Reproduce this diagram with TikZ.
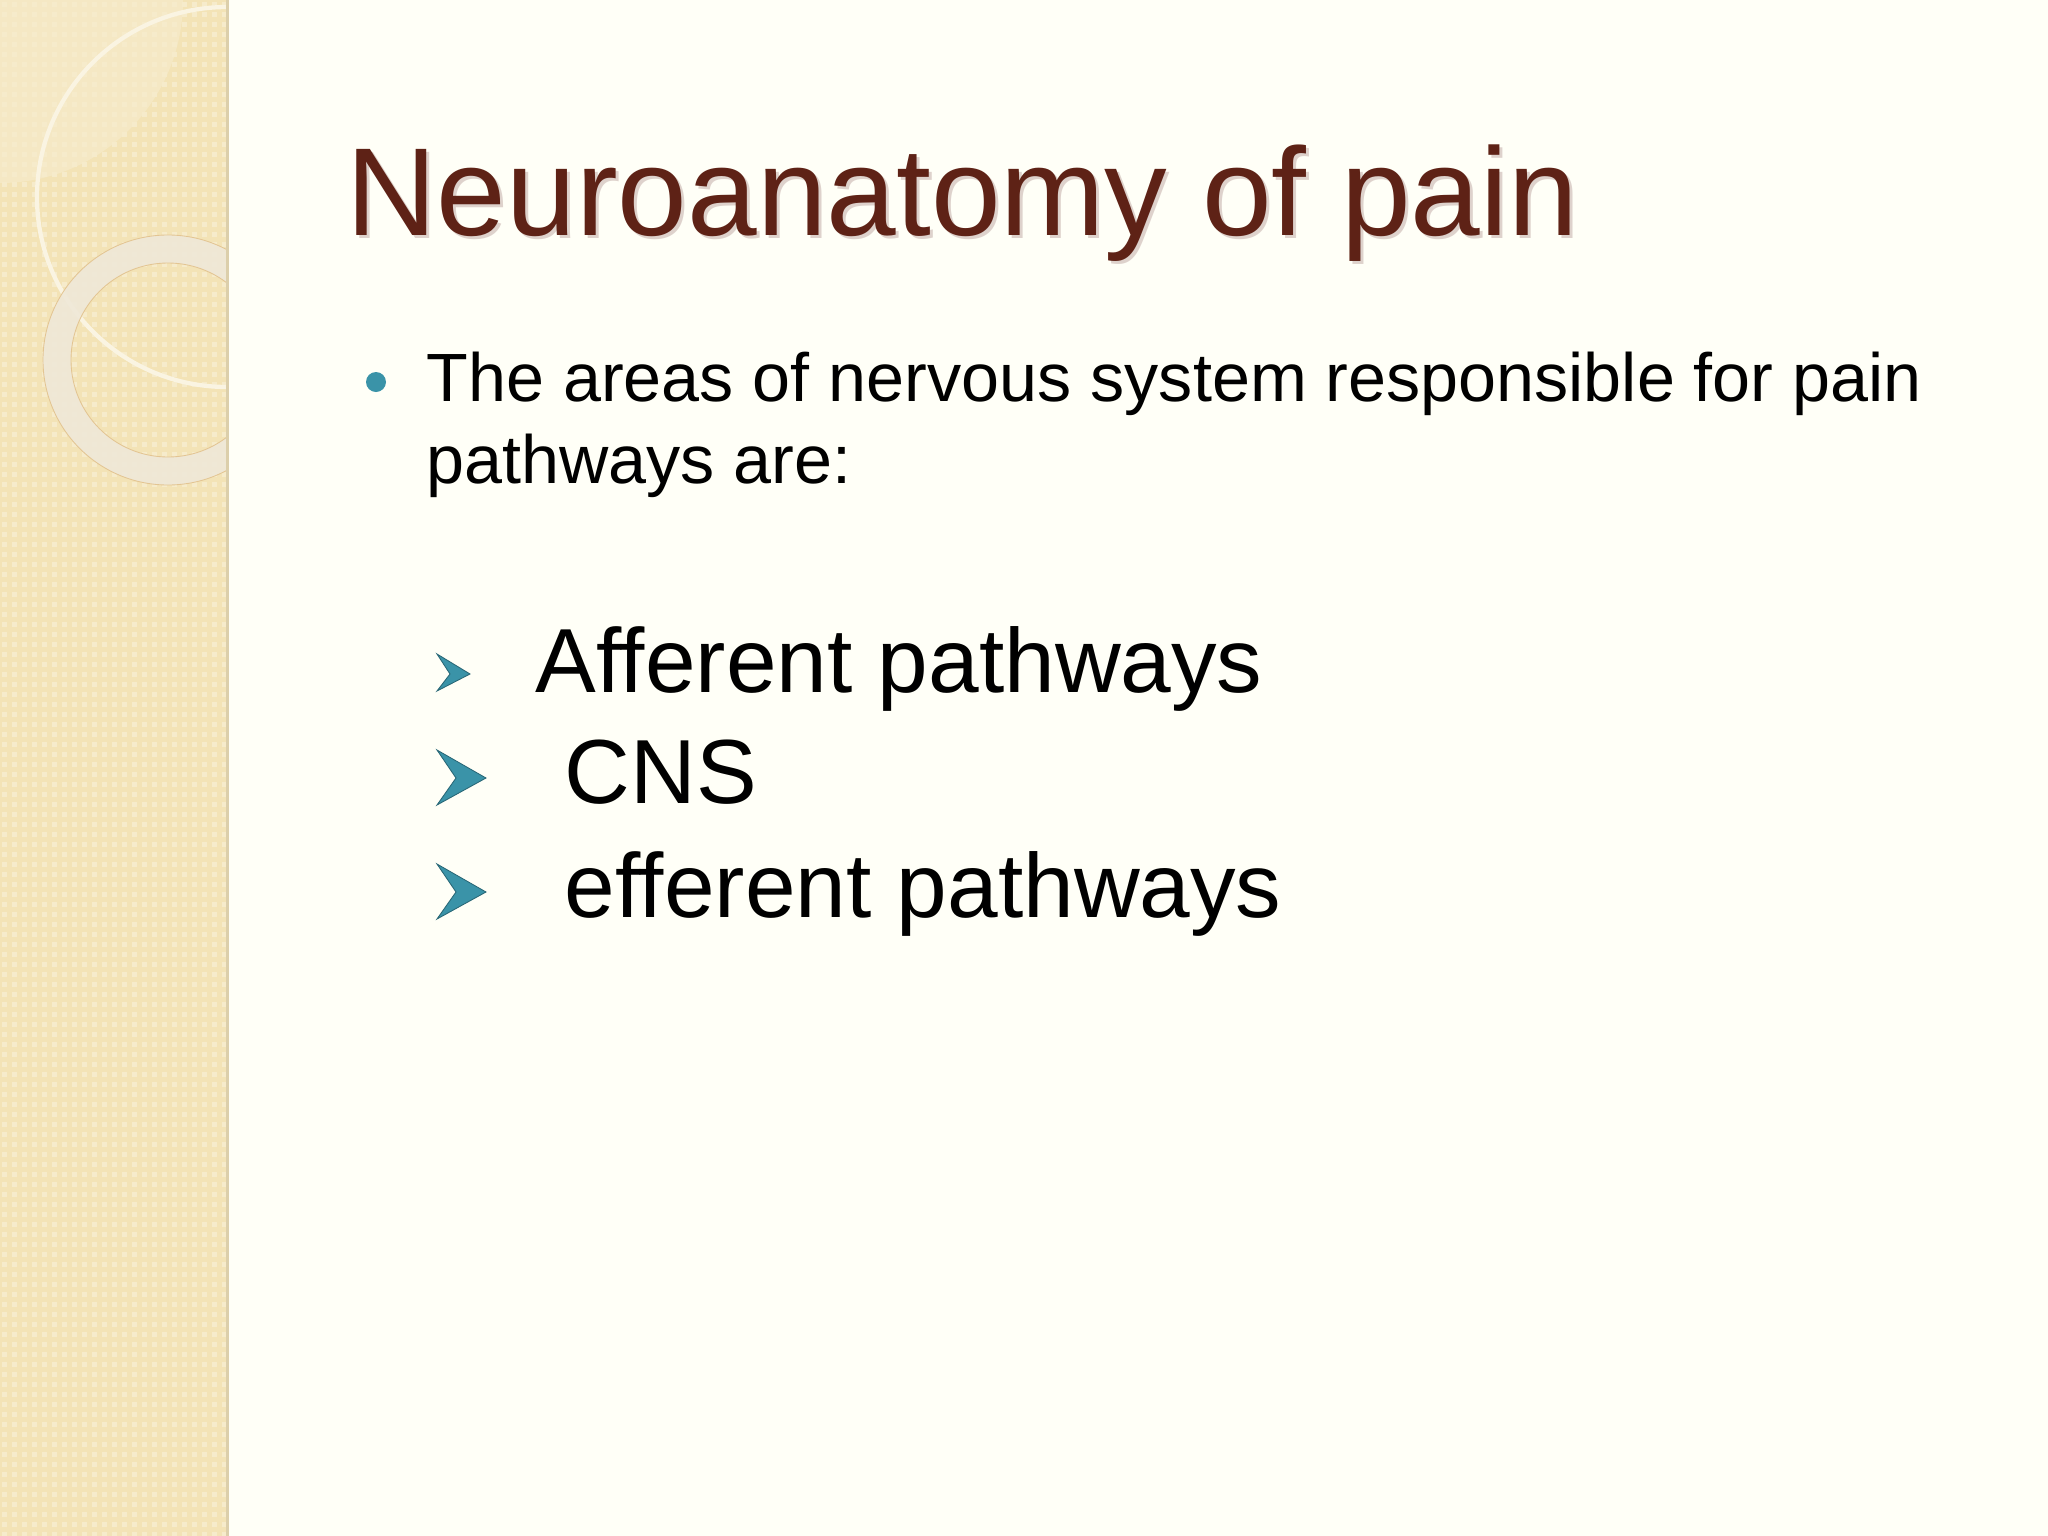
\documentclass[tikz,border=0pt]{standalone}
\usepackage{fontspec}
\setmainfont{Liberation Sans}
\definecolor{panel}{HTML}{F3E3B6}
\definecolor{panellight}{HTML}{F6EBCB}
\definecolor{ringc}{HTML}{EFE8D8}
\definecolor{titlec}{HTML}{5E2216}
\definecolor{teal}{HTML}{3A93A8}
\begin{document}
\begin{tikzpicture}[x=0.3515pt,y=-0.3515pt,
  txt/.style={anchor=base west,inner sep=0pt,text=black},
  arr/.style={fill=teal,draw=teal!70!black,line width=0.3pt}]
\useasboundingbox (0,0) rectangle (2048,1536);
\fill[white!97!yellow] (0,0) rectangle (2048,1536);
\fill[panel] (0,0) rectangle (227,1536);
\begin{scope}
\clip (0,0) rectangle (227,1536);
\foreach \i in {0,...,22}{\foreach \j in {0,...,153}{
  \fill[panellight] (\i*10+2,\j*10+2) rectangle ++(5,5);}}
\fill[panellight,opacity=0.7] (0,0) -- (183,0) arc[start angle=0,end angle=90,radius=183] -- cycle;
\draw[white!60!panel,line width=1.5pt] (227,197) circle[radius=190];
\draw[ringc,line width=9.8pt,opacity=0.9] (168,360) circle[radius=111];
\draw[panel!70!brown,line width=0.3pt] (168,360) circle[radius=125];
\draw[panel!70!brown,line width=0.3pt] (168,360) circle[radius=97];
\end{scope}
\fill[panel!80!gray] (226,0) rectangle (229,1536);
\node[txt,text=titlec!40!white,opacity=0.5] at (349,238) {\fontsize{44}{50}\selectfont Neuroanatomy of pain};
\node[txt,text=titlec] (title) at (346,235) {\fontsize{44}{50}\selectfont Neuroanatomy of pain};
\fill[teal] (376,382) circle[radius=10] coordinate (bul);
\node[txt] (l1) at (426,401) {\fontsize{24}{28}\selectfont The areas of nervous system responsible for pain};
\node[txt] (l2) at (426,483) {\fontsize{24}{28}\selectfont pathways are:};
\draw[arr] (437,654) -- (470,674) -- (437,691) -- (450,674) -- cycle;
\node[txt] (a1) at (535,692) {\fontsize{32}{36}\selectfont Afferent pathways};
\draw[arr] (437,750) -- (486,778) -- (437,805) -- (456,778) -- cycle;
\node[txt] (a2) at (564,803) {\fontsize{32}{36}\selectfont CNS};
\draw[arr] (437,864) -- (486,892) -- (437,919) -- (456,892) -- cycle;
\node[txt] (a3) at (564,917) {\fontsize{32}{36}\selectfont efferent pathways};
\end{tikzpicture}
\end{document}
